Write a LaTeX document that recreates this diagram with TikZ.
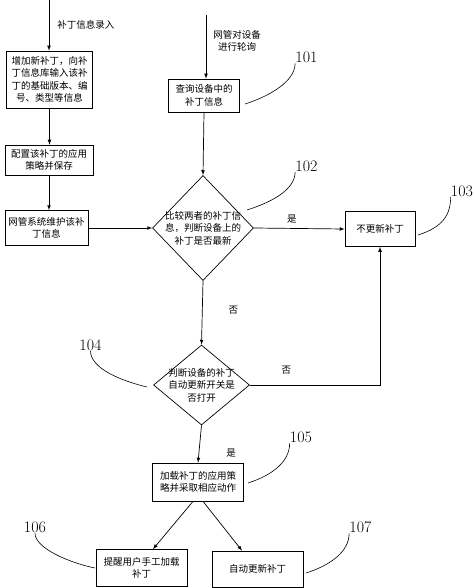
\documentclass[tikz,border=0pt]{standalone}
\usepackage{fontspec}
\newfontfamily\cjk{Noto Sans CJK SC}
\usetikzlibrary{shapes.geometric}

\begin{document}
\begin{tikzpicture}[x=1pt, y=-1pt, line width=0.7pt,
  box/.style={draw, rectangle, inner sep=0pt, align=center, font=\cjk\fontsize{9.5}{12.5}\selectfont},
  choice/.style={draw, diamond, inner sep=0pt},
  txt/.style={align=center, inner sep=0pt, font=\cjk\fontsize{9.5}{12.5}\selectfont},
  num/.style={inner sep=0pt, font=\fontsize{16}{16}\selectfont},
  flow/.style={-latex},
  lead/.style={line width=0.6pt}]
\useasboundingbox (0,0) rectangle (474,588);

% Left column: patch entry
\coordinate (inA) at (49,0);
\node[box, minimum width=86, minimum height=57] (A) at (49.5,79.5) {增加新补丁，向补\\丁信息库输入该补\\丁的基础版本、编\\号、类型等信息};
\node[box, minimum width=88, minimum height=30] (B) at (49,160) {配置该补丁的应用\\策略并保存};
\node[box, minimum width=83, minimum height=35] (C) at (46.5,228) {网管系统维护该补\\丁信息};

\draw[flow] (inA) -- node[txt, right=8pt] {补丁信息录入} (inA |- A.north);
\draw[flow] (A.south) -- (A.south |- B.north);
\draw[flow] (B.south) -- (B.south |- C.north);

% Centre column: polling
\coordinate (inD) at (206,15);
\node[box, minimum width=71, minimum height=33] (D) at (204,95.5) {查询设备中的\\补丁信息};
\node[choice, minimum width=101, minimum height=105] (d1) at (203,228) {};
\node[txt] (d1t) at (d1) {比较两者的补丁信\\息，判断设备上的\\补丁是否最新};
\node[box, minimum width=70, minimum height=35] (E) at (380,229) {不更新补丁};
\node[choice, minimum width=96, minimum height=80] (d2) at (201.5,385) {};
\node[txt] (d2t) at (d2) {判断设备的补丁\\自动更新开关是\\否打开};
\node[box, minimum width=91, minimum height=38] (F) at (198,482) {加载补丁的应用策\\略并采取相应动作};
\node[box, minimum width=91, minimum height=37] (G) at (141.5,568) {提醒用户手工加载\\补丁};
\node[box, minimum width=91, minimum height=36] (H) at (257.5,569) {自动更新补丁};

\draw[flow] (inD) -- node[txt, pos=0.41, right=7pt] {网管对设备\\进行轮询} (inD |- D.north);
\draw[flow] (D.south) -- (d1.north);
\draw[flow] (C.east) -- (d1.west);
\draw[flow] (d1.east) -- node[txt, pos=0.42, above=5pt] {是} (E.west);
\draw[flow] (d1.south) -- node[txt, pos=0.46, right=26pt] {否} (d2.north);
\draw[flow] (d2.east) -| node[txt, pos=0.14, above=10pt] {否} (E.south);
\draw[flow] (d2.south) -- node[txt, pos=0.74, right=27pt] {是} (F.north);
\draw[flow] ([xshift=-5pt]F.south) -- ([xshift=11.5pt]G.north);
\draw[flow] ([xshift=5pt]F.south) -- ([xshift=-15.5pt]H.north);

% Reference numbers
\node[num] (n101) at (306.5,57.5) {101};
\node[num] (n102) at (306.5,166) {102};
\node[num] (n103) at (462,191) {103};
\node[num] (n104) at (90.5,345) {104};
\node[num] (n105) at (301,437.5) {105};
\node[num] (n106) at (35,527.5) {106};
\node[num] (n107) at (360.5,527.5) {107};

\coordinate (s101) at (245,104);
\coordinate (s102) at (247,210);
\coordinate (s103) at (418,235);
\coordinate (s104) at (147,387);
\coordinate (s105) at (248,483);
\coordinate (s106) at (95,568);
\coordinate (s107) at (306,573);

\draw[lead] (s101) .. controls +(25,-8) and +(0,18) .. (n101.south west);
\draw[lead] (s102) .. controls +(25,-8) and +(0,18) .. (n102.south west);
\draw[lead] (s103) .. controls +(25,-8) and +(0,18) .. (n103.south west);
\draw[lead] (s105) .. controls +(25,-8) and +(0,18) .. (n105.south west);
\draw[lead] (s107) .. controls +(25,-8) and +(0,18) .. (n107.south west);
\draw[lead] (n104.south) .. controls +(0,18) and +(-25,-6) .. (s104);
\draw[lead] (n106.south) .. controls +(0,15) and +(-25,-5) .. (s106);

\end{tikzpicture}
\end{document}
